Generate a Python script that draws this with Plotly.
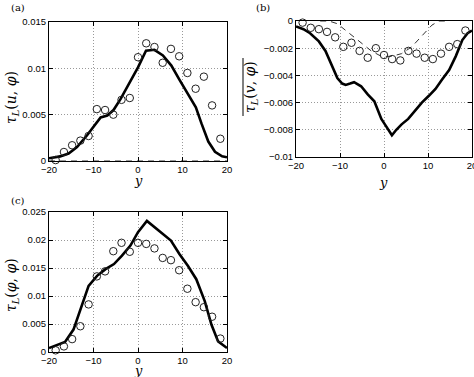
import plotly.graph_objects as go

W, H = 474, 377

# ---------------- data ----------------
y_circ = [-18.5, -16.65, -14.8, -12.95, -11.1, -9.25, -7.4, -5.55, -3.7, -1.85, 0.0,
          1.85, 3.7, 5.55, 7.4, 9.25, 11.1, 12.95, 14.8, 16.65, 18.5]

a_circ = [0.0001, 0.00097, 0.0017, 0.0022, 0.0027, 0.0056, 0.0055, 0.0050, 0.0066, 0.0068, 0.0112,
          0.0127, 0.0123, 0.0106, 0.0121, 0.0113, 0.0095, 0.0078, 0.0091, 0.0060, 0.0024]
a_line_x = [-20, -17.5, -15.6, -13.7, -11.4, -9.9, -8.4, -6.9, -5.5, -3.9, -2.0, 0, 1.8, 3.7,
            5.6, 7.5, 9.4, 11.3, 13.0, 14.3, 15.8, 17.3, 18.9, 20]
a_line = [0.0003, 0.0005, 0.0008, 0.0015, 0.0028, 0.0038, 0.0047, 0.0049, 0.0055, 0.0067, 0.0083,
          0.0101, 0.0119, 0.0120, 0.0114, 0.0103, 0.0087, 0.0071, 0.0058, 0.0040, 0.0021, 0.0010,
          0.0005, 0.0004]
a_dash_x = [-20, -15, -10, -5, -2, 0, 2, 4, 6, 8, 10, 13, 16, 20]
a_dash = [0.0, 0.0, 0.0, 0.00003, 0.00006, 0.00007, 0.00008, 0.00008, 0.00007, 0.00005, 0.00003,
          0.0, 0.0, 0.0]

b_circ = [-0.00012, -0.0005, -0.0006, -0.0008, -0.0012, -0.0019, -0.0016, -0.0022, -0.0027, -0.0020,
          -0.0025, -0.0028, -0.0029, -0.0022, -0.0024, -0.0027, -0.0028, -0.0024, -0.0019, -0.0017,
          -0.0007]
b_line_x = [-20, -18.3, -16.8, -14.8, -13.3, -12.2, -10.6, -9.5, -8.7, -7.7, -6.8, -5.2, -3.7,
            -2.2, -0.6, 0.2, 1.8, 2.8, 4.0, 5.5, 7.1, 8.6, 10.2, 11.7, 13.2, 14.8, 16.3, 17.8, 19.0, 20]
b_line = [-0.0004, -0.0006, -0.0009, -0.0015, -0.0022, -0.0030, -0.0042, -0.0046, -0.0047, -0.0046,
          -0.0045, -0.0048, -0.0054, -0.0059, -0.0072, -0.0076, -0.0084, -0.0080, -0.0076, -0.0072,
          -0.0066, -0.0060, -0.0055, -0.0050, -0.0043, -0.0036, -0.0026, -0.0014, -0.0009, -0.0007]
b_dash_x = [-14.5, -12.5, -10.6, -7.5, -5.2, -2.9, -0.6, 1.7, 4.0, 6.3, 8.6, 10.9, 12.5, 14.5]
b_dash = [0.0, 0.0, -0.0002, -0.0010, -0.0016, -0.0022, -0.0026, -0.0026, -0.0024, -0.0019,
          -0.0011, -0.0003, 0.0, 0.0]

c_circ = [0.0003, 0.0010, 0.0023, 0.0046, 0.0085, 0.0135, 0.0144, 0.0180, 0.0195, 0.0179, 0.0195,
          0.0193, 0.0185, 0.0168, 0.0164, 0.0146, 0.0113, 0.0089, 0.0080, 0.0063, 0.0024]
c_line_x = [-20, -18.3, -16.4, -14.5, -13.0, -11.1, -9.2, -7.3, -5.4, -3.6, -1.7, 0, 2.0, 3.7,
            5.5, 7.4, 9.3, 11.2, 13.1, 15.0, 16.5, 18.0, 20]
c_line = [0.0007, 0.0012, 0.0018, 0.0040, 0.0073, 0.0118, 0.0136, 0.0148, 0.0157, 0.0172, 0.0190,
          0.0214, 0.0234, 0.0223, 0.0211, 0.0199, 0.0175, 0.0154, 0.0130, 0.0091, 0.0049, 0.0019,
          0.0007]

x_ticks = [-20, -10, 0, 10, 20]
x_ticktext = ["−20", "−10", "0", "10", "20"]
a_ticks = [0, 0.005, 0.01, 0.015]
a_ticktext = ["0", "0.005", "0.01", "0.015"]
b_ticks = [-0.01, -0.008, -0.006, -0.004, -0.002, 0]
b_ticktext = ["−0.01", "−0.008", "−0.006", "−0.004", "−0.002", "0"]
c_ticks = [0, 0.005, 0.01, 0.015, 0.02, 0.025]
c_ticktext = ["0", "0.005", "0.01", "0.015", "0.02", "0.025"]

# ---------------- layout helpers (pixel coords) ----------------
def px_dom_x(a, b):
    return [a / W, b / W]

def px_dom_y(top, bot):
    return [1 - bot / H, 1 - top / H]

fig = go.Figure()

panels = [
    ("x", "y", a_circ, a_line_x, a_line, a_dash_x, a_dash),
    ("x2", "y2", b_circ, b_line_x, b_line, b_dash_x, b_dash),
    ("x3", "y3", c_circ, c_line_x, c_line, None, None),
]
for xa, ya, circ, lx, ly, dx, dy in panels:
    if dx is not None:
        fig.add_trace(go.Scatter(x=dx, y=dy, xaxis=xa, yaxis=ya, mode="lines",
                                 line=dict(color="#333", width=1, dash="6px,5px"),
                                 showlegend=False, hoverinfo="skip"))
    fig.add_trace(go.Scatter(x=lx, y=ly, xaxis=xa, yaxis=ya, mode="lines",
                             line=dict(color="black", width=2.6),
                             showlegend=False, hoverinfo="skip"))
    fig.add_trace(go.Scatter(x=y_circ, y=circ, xaxis=xa, yaxis=ya, mode="markers",
                             marker=dict(symbol="circle-open", size=7.5, color="#222",
                                         line=dict(width=1)),
                             cliponaxis=False, showlegend=False, hoverinfo="skip"))

tickfont = dict(family="Liberation Sans, Arial, sans-serif", size=9.5, color="black")
common_x = dict(range=[-20, 20], tickvals=x_ticks, ticktext=x_ticktext, ticks="inside",
                ticklen=4, tickcolor="black", showline=True, linecolor="black", linewidth=1,
                mirror="ticks", showgrid=True, gridcolor="#999", griddash="1px,2px", gridwidth=1,
                zeroline=False, tickfont=tickfont, automargin=False, ticklabeloverflow="allow")
common_y = dict(ticks="inside", ticklen=4, tickcolor="black", showline=True, linecolor="black",
                linewidth=1, mirror="ticks", showgrid=True, gridcolor="#999", griddash="1px,2px",
                gridwidth=1, zeroline=False, tickfont=tickfont, automargin=False,
                ticklabeloverflow="allow")

fig.update_layout(
    width=W, height=H, margin=dict(l=0, r=0, t=0, b=0, autoexpand=False),
    paper_bgcolor="white", plot_bgcolor="white",
    xaxis=dict(common_x, domain=px_dom_x(49, 227), anchor="y"),
    yaxis=dict(common_y, domain=px_dom_y(22, 161), anchor="x", range=[0, 0.015],
               tickvals=a_ticks, ticktext=a_ticktext),
    xaxis2=dict(common_x, domain=px_dom_x(296, 472), anchor="y2"),
    yaxis2=dict(common_y, domain=px_dom_y(21, 157), anchor="x2", range=[-0.01, 0],
                tickvals=b_ticks, ticktext=b_ticktext),
    xaxis3=dict(common_x, domain=px_dom_x(49, 227), anchor="y3"),
    yaxis3=dict(common_y, domain=px_dom_y(212, 352), anchor="x3", range=[0, 0.025],
                tickvals=c_ticks, ticktext=c_ticktext),
)

serif = "DejaVu Serif, Liberation Serif, serif"
def ann(text, x, y, size=14, angle=0, family=serif):
    fig.add_annotation(text=text, x=x / W, y=1 - y / H, xref="paper", yref="paper",
                       showarrow=False, textangle=angle, xanchor="center", yanchor="middle",
                       font=dict(family=family, size=size, color="black"))

ann("(a)", 18, 7, size=10)
ann("(b)", 263, 7, size=10)
ann("(c)", 18, 200, size=10)
ann("<i>y</i>", 138, 180, size=13)
ann("<i>y</i>", 383, 182, size=13)
ann("<i>y</i>", 138, 370, size=13)
ann("<i>τ</i><sub><i>L</i></sub>(<i>u</i>, <i>φ</i>)", 12, 98, size=14, angle=-90)
ann("<i>τ</i><sub><i>L</i></sub>(<i>v</i>, <i>φ</i>)", 251, 87, size=14, angle=-90)
ann("<i>τ</i><sub><i>L</i></sub>(<i>φ</i>, <i>φ</i>)", 12, 285, size=14, angle=-90)

# overline for panel (b) label
fig.add_shape(type="line", xref="paper", yref="paper",
              x0=243 / W, x1=243 / W, y0=1 - 58 / H, y1=1 - 116 / H,
              line=dict(color="black", width=1))

# remove the page's default body margin so the figure sits at the window origin
fig.write_html("out.html", config={"displayModeBar": False},
               post_script="document.body.style.margin='0px';")
